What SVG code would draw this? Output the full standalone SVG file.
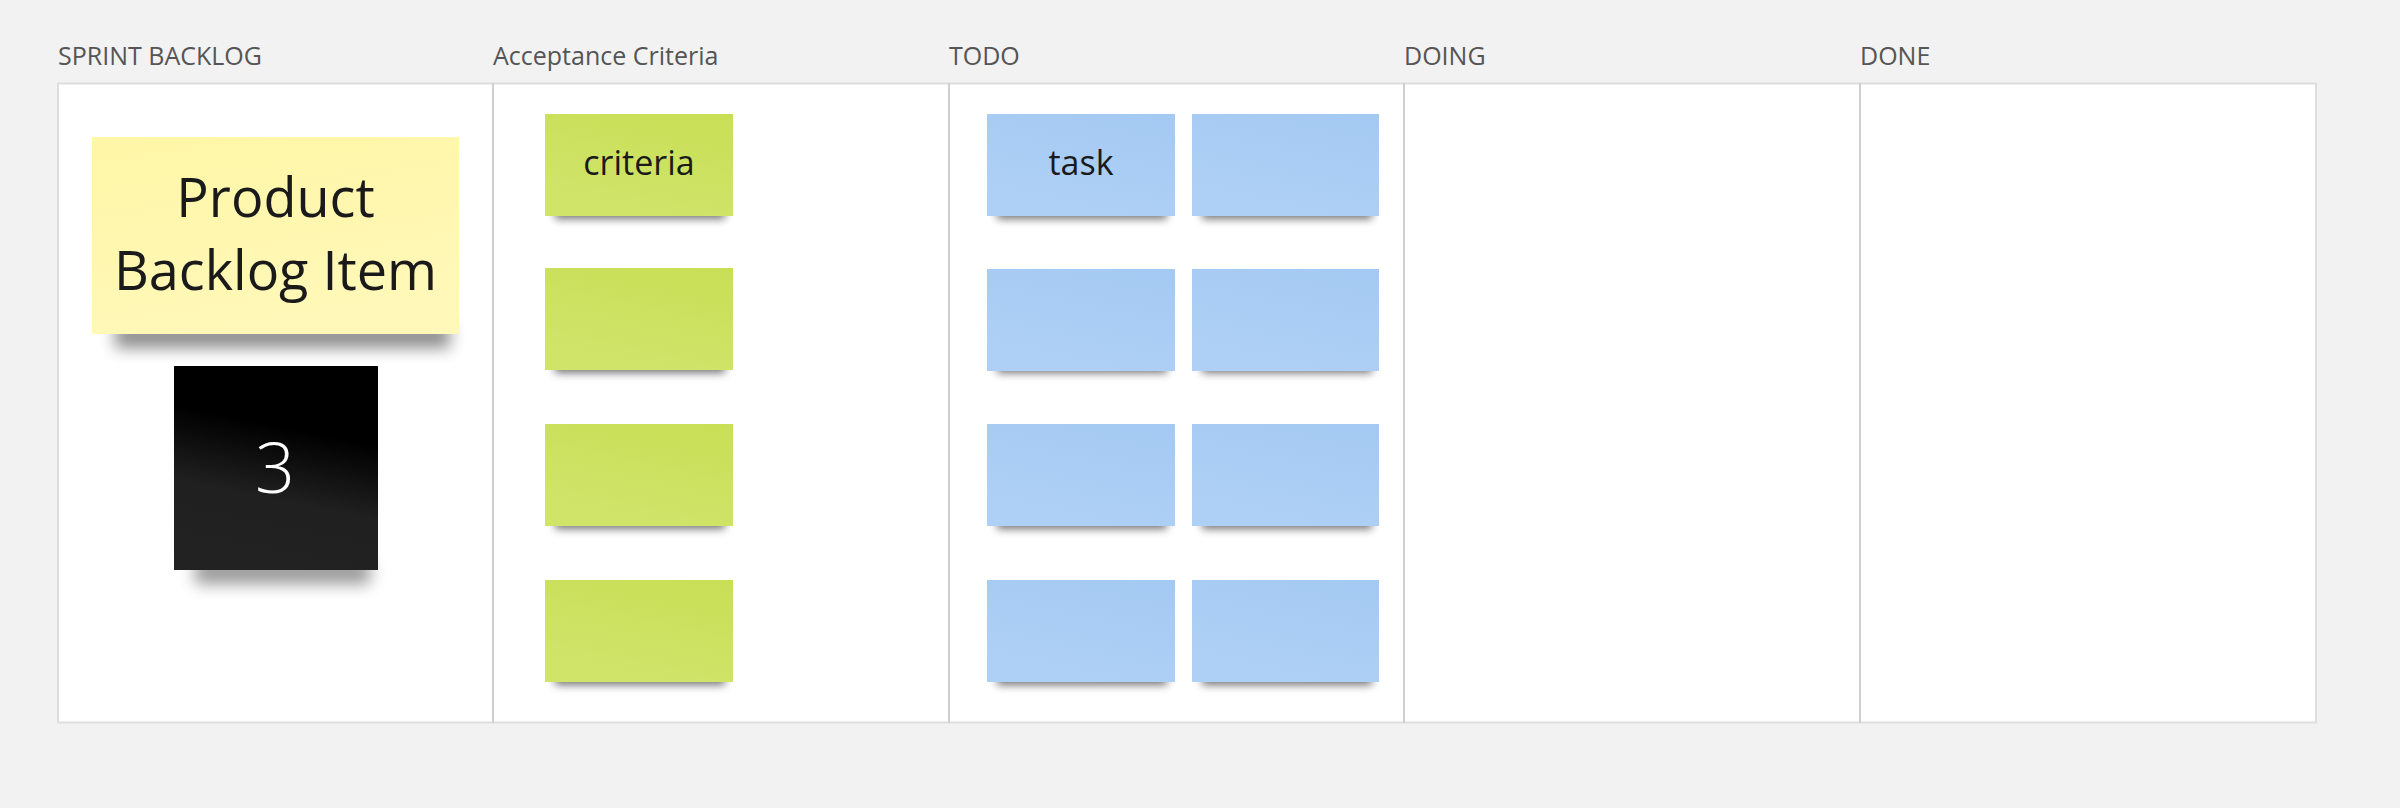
<svg xmlns="http://www.w3.org/2000/svg" width="2400" height="808" viewBox="0 0 2400 808">
<style>
.hdr{font-family:"Open Sans","Liberation Sans",sans-serif;font-size:25px;fill:#555}
.lbl{font-family:"Open Sans","Liberation Sans",sans-serif;fill:#1a1a1a;text-anchor:middle}
.div{stroke:#cfcfcf;stroke-width:2}
.sh{fill:#000;opacity:.55;filter:url(#blur)}
</style>
<defs>
<filter id="blur" x="-20%" y="-100%" width="140%" height="300%"><feGaussianBlur stdDeviation="4"/></filter>
<filter id="blur2" x="-20%" y="-100%" width="140%" height="300%"><feGaussianBlur stdDeviation="8"/></filter>
<linearGradient id="gY" x1="0" y1="0" x2="0.3" y2="1"><stop offset="0" stop-color="#fff6a6"/><stop offset="1" stop-color="#fff8b8"/></linearGradient>
<linearGradient id="gG" x1="1" y1="0" x2="0.6" y2="1"><stop offset="0" stop-color="#c8df55"/><stop offset="1" stop-color="#d0e46a"/></linearGradient>
<linearGradient id="gB" x1="1" y1="0" x2="0.6" y2="1"><stop offset="0" stop-color="#a4c9f2"/><stop offset="1" stop-color="#aed0f6"/></linearGradient>
<linearGradient id="gK" x1="0.6" y1="0" x2="0.4" y2="1"><stop offset="0.3" stop-color="#000"/><stop offset="0.65" stop-color="#202020"/><stop offset="1" stop-color="#222"/></linearGradient>
</defs>
<rect width="2400" height="808" fill="#f2f2f2"/>
<g id="board">
<rect x="58" y="83.5" width="2258" height="639" fill="#fff" stroke="#dedede" stroke-width="2"/>
<line class="div" x1="493" y1="83" x2="493" y2="723"/>
<line class="div" x1="949" y1="83" x2="949" y2="723"/>
<line class="div" x1="1404" y1="83" x2="1404" y2="723"/>
<line class="div" x1="1860" y1="83" x2="1860" y2="723"/>
</g>
<g id="headers">
<text class="hdr" x="58" y="65">SPRINT BACKLOG</text>
<text class="hdr" x="493" y="65">Acceptance Criteria</text>
<text class="hdr" x="949" y="65">TODO</text>
<text class="hdr" x="1404" y="65">DOING</text>
<text class="hdr" x="1860" y="65">DONE</text>
</g>
<g id="pbi">
<rect x="115" y="324" width="335" height="24" fill="#000" opacity=".45" filter="url(#blur2)"/>
<rect x="92" y="137" width="367" height="197" fill="url(#gY)"/>
<text class="lbl" x="275.5" y="217" font-size="54">Product</text>
<text class="lbl" x="275.5" y="290" font-size="54">Backlog Item</text>
</g>
<g id="estimate">
<rect x="195" y="560" width="175" height="24" fill="#000" opacity=".4" filter="url(#blur2)"/>
<rect x="174" y="366" width="204" height="204" fill="url(#gK)"/>
<text x="275" y="493" font-family="Open Sans, Liberation Sans, sans-serif" font-size="70" font-weight="300" fill="#fff" text-anchor="middle">3</text>
</g>
<g id="criteria1"><rect class="sh" x="555" y="207" width="170" height="12"/><rect x="545" y="114" width="188" height="102" fill="url(#gG)"/><text class="lbl" x="639" y="175" font-size="34">criteria</text></g>
<g id="criteria2"><rect class="sh" x="555" y="361" width="170" height="12"/><rect x="545" y="268" width="188" height="102" fill="url(#gG)"/></g>
<g id="criteria3"><rect class="sh" x="555" y="517" width="170" height="12"/><rect x="545" y="424" width="188" height="102" fill="url(#gG)"/></g>
<g id="criteria4"><rect class="sh" x="555" y="673" width="170" height="12"/><rect x="545" y="580" width="188" height="102" fill="url(#gG)"/></g>
<g id="task1"><rect class="sh" x="997" y="207" width="170" height="12"/><rect x="987" y="114" width="188" height="102" fill="url(#gB)"/><text class="lbl" x="1081" y="175" font-size="34">task</text></g>
<g id="task2"><rect class="sh" x="1202" y="207" width="170" height="12"/><rect x="1192" y="114" width="187" height="102" fill="url(#gB)"/></g>
<g id="task3"><rect class="sh" x="997" y="361" width="170" height="12"/><rect x="987" y="269" width="188" height="102" fill="url(#gB)"/></g>
<g id="task4"><rect class="sh" x="1202" y="361" width="170" height="12"/><rect x="1192" y="269" width="187" height="102" fill="url(#gB)"/></g>
<g id="task5"><rect class="sh" x="997" y="517" width="170" height="12"/><rect x="987" y="424" width="188" height="102" fill="url(#gB)"/></g>
<g id="task6"><rect class="sh" x="1202" y="517" width="170" height="12"/><rect x="1192" y="424" width="187" height="102" fill="url(#gB)"/></g>
<g id="task7"><rect class="sh" x="997" y="673" width="170" height="12"/><rect x="987" y="580" width="188" height="102" fill="url(#gB)"/></g>
<g id="task8"><rect class="sh" x="1202" y="673" width="170" height="12"/><rect x="1192" y="580" width="187" height="102" fill="url(#gB)"/></g>
<g id="connectors"/>
</svg>
